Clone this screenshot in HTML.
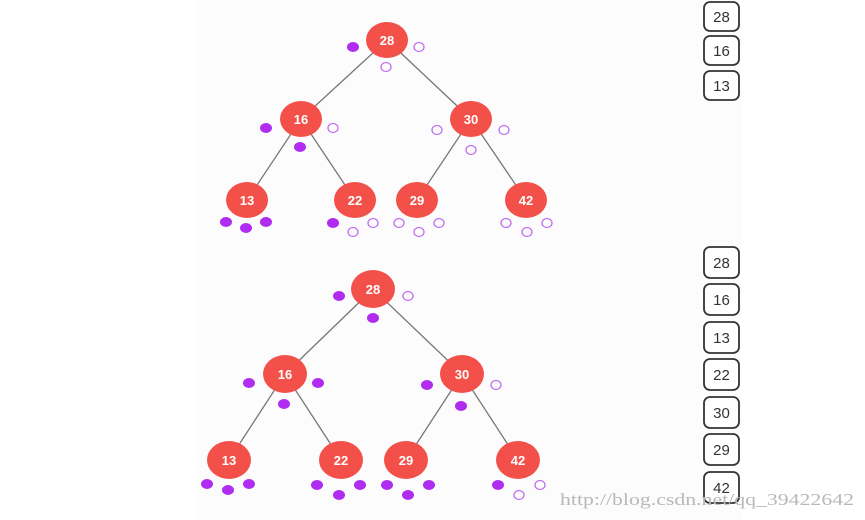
<!DOCTYPE html>
<html><head><style>body{margin:0;background:#fff}svg{display:block}</style></head><body>
<svg width="865" height="520" xmlns="http://www.w3.org/2000/svg" font-family="Liberation Sans, sans-serif">
<rect x="196" y="0" width="545" height="520" fill="#fcfcfc"/>
<g stroke="#777" stroke-width="1.3">
<line x1="387" y1="40" x2="301" y2="119"/><line x1="387" y1="40" x2="471" y2="119"/>
<line x1="301" y1="119" x2="247" y2="200"/><line x1="301" y1="119" x2="355" y2="200"/>
<line x1="471" y1="119" x2="417" y2="200"/><line x1="471" y1="119" x2="526" y2="200"/>
<line x1="373" y1="289" x2="285" y2="374"/><line x1="373" y1="289" x2="462" y2="374"/>
<line x1="285" y1="374" x2="229" y2="460"/><line x1="285" y1="374" x2="341" y2="460"/>
<line x1="462" y1="374" x2="406" y2="460"/><line x1="462" y1="374" x2="518" y2="460"/>
</g>
<g fill="#f4504a">
<ellipse cx="387" cy="40" rx="21" ry="18"/><ellipse cx="301" cy="119" rx="21" ry="18"/><ellipse cx="471" cy="119" rx="21" ry="18"/>
<ellipse cx="247" cy="200" rx="21" ry="18"/><ellipse cx="355" cy="200" rx="21" ry="18"/><ellipse cx="417" cy="200" rx="21" ry="18"/><ellipse cx="526" cy="200" rx="21" ry="18"/>
<ellipse cx="373" cy="289" rx="22" ry="19"/><ellipse cx="285" cy="374" rx="22" ry="19"/><ellipse cx="462" cy="374" rx="22" ry="19"/>
<ellipse cx="229" cy="460" rx="22" ry="19"/><ellipse cx="341" cy="460" rx="22" ry="19"/><ellipse cx="406" cy="460" rx="22" ry="19"/><ellipse cx="518" cy="460" rx="22" ry="19"/>
</g>
<g fill="#fff" font-size="13" font-weight="bold" text-anchor="middle">
<text x="387" y="45">28</text><text x="301" y="124">16</text><text x="471" y="124">30</text>
<text x="247" y="205">13</text><text x="355" y="205">22</text><text x="417" y="205">29</text><text x="526" y="205">42</text>
<text x="373" y="294">28</text><text x="285" y="379">16</text><text x="462" y="379">30</text>
<text x="229" y="465">13</text><text x="341" y="465">22</text><text x="406" y="465">29</text><text x="518" y="465">42</text>
</g>
<g fill="#b02cf0">
<ellipse cx="353" cy="47" rx="6" ry="5"/><ellipse cx="266" cy="128" rx="6" ry="5"/><ellipse cx="300" cy="147" rx="6" ry="5"/>
<ellipse cx="226" cy="222" rx="6" ry="5"/><ellipse cx="246" cy="228" rx="6" ry="5"/><ellipse cx="266" cy="222" rx="6" ry="5"/>
<ellipse cx="333" cy="223" rx="6" ry="5"/>
<ellipse cx="339" cy="296" rx="6" ry="5"/><ellipse cx="373" cy="318" rx="6" ry="5"/>
<ellipse cx="249" cy="383" rx="6" ry="5"/><ellipse cx="318" cy="383" rx="6" ry="5"/><ellipse cx="284" cy="404" rx="6" ry="5"/>
<ellipse cx="427" cy="385" rx="6" ry="5"/><ellipse cx="461" cy="406" rx="6" ry="5"/>
<ellipse cx="207" cy="484" rx="6" ry="5"/><ellipse cx="228" cy="490" rx="6" ry="5"/><ellipse cx="249" cy="484" rx="6" ry="5"/>
<ellipse cx="317" cy="485" rx="6" ry="5"/><ellipse cx="339" cy="495" rx="6" ry="5"/><ellipse cx="360" cy="485" rx="6" ry="5"/>
<ellipse cx="387" cy="485" rx="6" ry="5"/><ellipse cx="408" cy="495" rx="6" ry="5"/><ellipse cx="429" cy="485" rx="6" ry="5"/>
<ellipse cx="498" cy="485" rx="6" ry="5"/>
</g>
<g fill="none" stroke="#c06ef0" stroke-width="1.3">
<ellipse cx="419" cy="47" rx="5" ry="4.5"/><ellipse cx="386" cy="67" rx="5" ry="4.5"/><ellipse cx="333" cy="128" rx="5" ry="4.5"/>
<ellipse cx="437" cy="130" rx="5" ry="4.5"/><ellipse cx="504" cy="130" rx="5" ry="4.5"/><ellipse cx="471" cy="150" rx="5" ry="4.5"/>
<ellipse cx="353" cy="232" rx="5" ry="4.5"/><ellipse cx="373" cy="223" rx="5" ry="4.5"/>
<ellipse cx="399" cy="223" rx="5" ry="4.5"/><ellipse cx="419" cy="232" rx="5" ry="4.5"/><ellipse cx="439" cy="223" rx="5" ry="4.5"/>
<ellipse cx="506" cy="223" rx="5" ry="4.5"/><ellipse cx="527" cy="232" rx="5" ry="4.5"/><ellipse cx="547" cy="223" rx="5" ry="4.5"/>
<ellipse cx="408" cy="296" rx="5" ry="4.5"/><ellipse cx="496" cy="385" rx="5" ry="4.5"/>
<ellipse cx="519" cy="495" rx="5" ry="4.5"/><ellipse cx="540" cy="485" rx="5" ry="4.5"/>
</g>
<g fill="#fff" stroke="#333" stroke-width="1.8">
<rect x="704" y="2" width="35" height="29" rx="6"/><rect x="704" y="36" width="35" height="29" rx="6"/><rect x="704" y="71" width="35" height="29" rx="6"/>
<rect x="704" y="247" width="35" height="31" rx="6"/><rect x="704" y="284" width="35" height="31" rx="6"/><rect x="704" y="322" width="35" height="31" rx="6"/>
<rect x="704" y="359" width="35" height="31" rx="6"/><rect x="704" y="397" width="35" height="31" rx="6"/><rect x="704" y="434" width="35" height="31" rx="6"/><rect x="704" y="472" width="35" height="31" rx="6"/>
</g>
<g fill="#333" font-size="15" text-anchor="middle">
<text x="721.5" y="22">28</text><text x="721.5" y="56">16</text><text x="721.5" y="91">13</text>
<text x="721.5" y="268">28</text><text x="721.5" y="305">16</text><text x="721.5" y="343">13</text>
<text x="721.5" y="380">22</text><text x="721.5" y="418">30</text><text x="721.5" y="455">29</text><text x="721.5" y="493">42</text>
</g>
<text x="560" y="505" fill="#b8b8b8" font-family="Liberation Serif, serif" font-size="17" textLength="294" lengthAdjust="spacingAndGlyphs">http://blog.csdn.net/qq_39422642</text>
</svg>
</body></html>
